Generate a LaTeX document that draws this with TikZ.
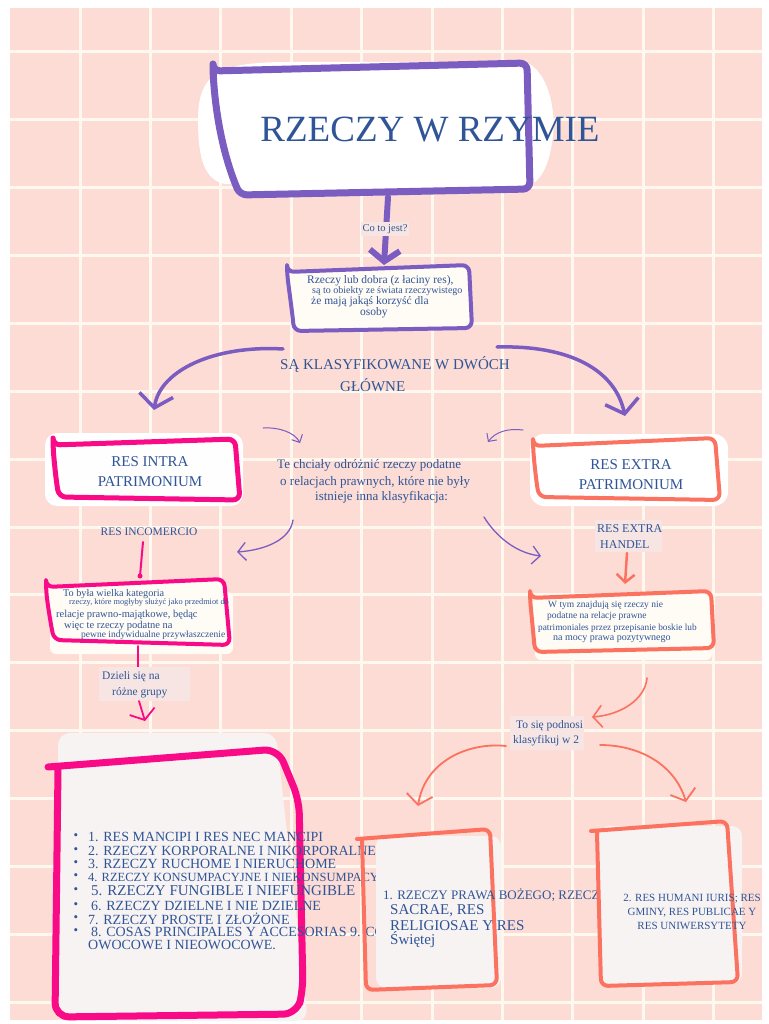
\documentclass[tikz,border=0pt]{standalone}
\usepackage{fontspec}
\setmainfont{Liberation Serif}
\usetikzlibrary{positioning,arrows.meta}

\definecolor{tlo}{HTML}{FCDCD5}
\definecolor{siatka}{HTML}{FFF8EF}
\definecolor{atrament}{HTML}{2F5597}
\definecolor{fiolet}{HTML}{7B5CC0}
\definecolor{fuksja}{HTML}{F90A86}
\definecolor{koral}{HTML}{FB7260}
\definecolor{krem}{HTML}{FFFBF5}
\definecolor{plama}{HTML}{F8F3F3}
\definecolor{etykieta}{HTML}{F6E5E3}

\begin{document}
\begin{tikzpicture}[x=1pt, y=-1pt,
  linia/.style={draw=siatka, line width=3pt},
  tekst/.style={text=atrament, inner sep=0pt},
  rozm/.style 2 args={font=\fontsize{#1}{#2}\selectfont},
  ramka/.style={line width=#1, rounded corners=7pt, line join=round, line cap=round},
  luk/.style={line width=#1, line cap=round},
  etyk/.style={fill=etykieta, inner sep=2pt}
]
\useasboundingbox (0,0) rectangle (768,1024);

% tlo w kratke
\fill[white] (0,0) rectangle (768,1024);
\fill[tlo] (10,8) rectangle (762,1020);
\foreach \i in {0,...,9} \draw[linia] ({80+70.4*\i},8) -- ({80+70.4*\i},1020);
\foreach \j in {0,...,14} \draw[linia] (10,{52+67.86*\j}) -- (762,{52+67.86*\j});

% tytul
\fill[white] (198,120) .. controls (198,72) and (220,62) .. (290,62) -- (525,62)
  .. controls (548,70) and (556,110) .. (553,135) .. controls (550,165) and (540,185) .. (525,186)
  -- (225,184) .. controls (205,180) and (198,160) .. (198,120) -- cycle;
\draw[ramka=7pt, draw=fiolet, fill=white!96!plama] (213,71) -- (527,63) -- (530,189) -- (240,195)
  .. controls (225,160) and (216,120) .. (213,71) -- cycle;
\node[tekst, rozm={37}{40}] (tytul) at (430,130) {RZECZY W RZYMIE};

\coordinate (tytul_d) at (388,197);
\coordinate (def_g) at (384,265);
\draw[fiolet, luk=6pt, -{Straight Barb[length=11pt, width=30pt]}] (tytul_d) -- (def_g);
\node[tekst, etyk, rozm={10.5}{12}] (pytanie) at (385,229) {Co to jest?};

% definicja
\draw[ramka=4pt, draw=fiolet, fill=krem] (287,272) -- (469,265) -- (472,328) -- (294,331)
  .. controls (292,310) and (289,290) .. (287,272) -- cycle;
\node[tekst, rozm={11.5}{13}, anchor=west] (def1) at (307,281) {Rzeczy lub dobra (z łaciny res),};
\node[tekst, rozm={10}{11}, anchor=west] (def2) at (312,291) {są to obiekty ze świata rzeczywistego};
\node[tekst, rozm={11.5}{13}, anchor=west] (def3) at (311,302) {że mają jakąś korzyść dla};
\node[tekst, rozm={11.5}{13}, anchor=west] (def4) at (360,313) {osoby};

% klasyfikacja
\node[tekst, rozm={15}{20}, anchor=west] (klasyf1) at (280,365) {SĄ KLASYFIKOWANE W DWÓCH};
\node[tekst, rozm={15}{20}, anchor=west] (klasyf2) at (340,385) {GŁÓWNE};

\coordinate (kl_l0) at (283,349);
\coordinate (kl_l1) at (154,410);
\coordinate (kl_p0) at (497,347);
\coordinate (kl_p1) at (625,416);
\draw[fiolet, luk=3.5pt, -{Straight Barb[length=13pt, width=34pt]}] (kl_l0) .. controls (215,345) and (160,370) .. (kl_l1);
\draw[fiolet, luk=3.5pt, -{Straight Barb[length=13pt, width=34pt]}] (kl_p0) .. controls (570,345) and (615,370) .. (kl_p1);

% male strzalki
\coordinate (ms_l0) at (263,428);
\coordinate (ms_l1) at (300,443);
\coordinate (ms_p0) at (523,430);
\coordinate (ms_p1) at (488,442);
\draw[fiolet, luk=1pt, -{Straight Barb[length=6pt, width=12pt]}] (ms_l0) .. controls (280,427) and (295,433) .. (ms_l1);
\draw[fiolet, luk=1pt, -{Straight Barb[length=6pt, width=12pt]}] (ms_p0) .. controls (508,428) and (495,432) .. (ms_p1);

% opis
\node[tekst, rozm={13}{15}, anchor=west] (opis1) at (277,465) {Te chciały odróżnić rzeczy podatne};
\node[tekst, rozm={13}{15}, anchor=west] (opis2) at (280,482) {o relacjach prawnych, które nie były};
\node[tekst, rozm={13}{15}, anchor=west] (opis3) at (315,497) {istnieje inna klasyfikacja:};

\coordinate (op_l0) at (293,520);
\coordinate (op_l1) at (237,552);
\coordinate (op_p0) at (484,517);
\coordinate (op_p1) at (541,556);
\draw[fiolet, luk=1.3pt, -{Straight Barb[length=8pt, width=18pt]}] (op_l0) .. controls (290,540) and (265,550) .. (op_l1);
\draw[fiolet, luk=1.3pt, -{Straight Barb[length=8pt, width=18pt]}] (op_p0) .. controls (495,535) and (515,553) .. (op_p1);

% res intra patrimonium
\fill[white, rounded corners=12pt] (45,433) rectangle (243,506);
\draw[ramka=5pt, draw=fuksja, fill=white!94!plama] (53,445) -- (235,439) -- (240,500) -- (59,497)
  .. controls (56,480) and (54,460) .. (53,445) -- cycle;
\node[tekst, rozm={15}{20}, align=center] (intra) at (150,472) {RES INTRA\\PATRIMONIUM};

% res extra patrimonium
\fill[white, rounded corners=14pt] (530,434) rectangle (728,506);
\draw[ramka=4pt, draw=koral, fill=white!96!plama] (533,446) -- (715,438) -- (720,500) -- (539,497)
  .. controls (536,480) and (534,460) .. (533,446) -- cycle;
\node[tekst, rozm={15}{20}, align=center] (extra) at (631,475) {RES EXTRA\\PATRIMONIUM};

% lewa galaz
\node[tekst, rozm={11.5}{13}] (incomercio) at (149,532) {RES INCOMERCIO};
\coordinate (inc_d) at (143,542);
\coordinate (kat_g) at (140,576);
\draw[fuksja, luk=2pt] (inc_d) -- (kat_g);
\fill[fuksja] (kat_g) circle (2.5pt);

\fill[krem, rounded corners=6pt] (50,592) rectangle (233,654);
\draw[ramka=4pt, draw=fuksja, fill=krem] (46,587) -- (224,579) -- (230,645) -- (54,640)
  .. controls (50,620) and (47,600) .. (46,587) -- cycle;
\node[tekst, rozm={10.2}{12}, anchor=west] (kat1) at (63,594) {To była wielka kategoria};
\node[tekst, rozm={8.3}{10}, anchor=west] (kat2) at (69,603) {rzeczy, które mogłyby służyć jako przedmiot do};
\node[tekst, rozm={10.5}{12}, anchor=west] (kat3) at (56,615) {relacje prawno-majątkowe, będąc};
\node[tekst, rozm={10.5}{12}, anchor=west] (kat4) at (64,626) {więc te rzeczy podatne na};
\node[tekst, rozm={9.5}{11}, anchor=west] (kat5) at (81,635) {pewne indywidualne przywłaszczenie};

\coordinate (kat_d) at (138,646);
\coordinate (dz_g) at (138,668);
\draw[fuksja, luk=2pt] (kat_d) -- (dz_g);
\fill[etykieta] (99,667) rectangle (190,701);
\node[tekst, rozm={11.5}{13}, anchor=west] (dzieli1) at (102,677) {Dzieli się na};
\node[tekst, rozm={11.5}{13}, anchor=west] (dzieli2) at (112,693) {różne grupy};
\coordinate (dz_d) at (139,701);
\coordinate (lista_g) at (145,721);
\draw[fuksja, luk=1.8pt, -{Straight Barb[length=9pt, width=26pt]}] (dz_d) -- (lista_g);

% lista
\fill[plama, rounded corners=12pt] (58,733) -- (276,733) -- (308,1021) -- (58,1021) -- cycle;
\draw[ramka=7pt, draw=fuksja, rounded corners=14pt] (48,767) -- (278,749) -- (299,800) -- (303,990)
  -- (297,1014) -- (55,1017) -- (58,769);
\foreach \nr/\y/\r/\x/\t in {
  1/837/14/88/{1. RES MANCIPI I RES NEC MANCIPI},
  2/851/14/88/{2. RZECZY KORPORALNE I NIKORPORALNE},
  3/864/14/88/{3. RZECZY RUCHOME I NIERUCHOME},
  4/877/12.5/88/{4. RZECZY KONSUMPACYJNE I NIEKONSUMPACYJNE},
  5/891/15/91/{5. RZECZY FUNGIBLE I NIEFUNGIBLE},
  6/906/14/91/{6. RZECZY DZIELNE I NIE DZIELNE},
  7/919/14/88/{7. RZECZY PROSTE I ZŁOŻONE},
  8/932/14/91/{8. COSAS PRINCIPALES Y ACCESORIAS 9. COSAS}} {
  \node[tekst, rozm={13}{13}] (kropka\nr) at (76,\y) {•};
  \node[tekst, rozm={\r}{\r}, anchor=west] (pkt\nr) at (\x,\y) {\t};
}
\node[tekst, rozm={14}{14}, anchor=west] (pkt9) at (88,945) {OWOCOWE I NIEOWOCOWE.};

% prawa galaz
\fill[etykieta] (595,520) rectangle (662,552);
\node[tekst, rozm={12}{14}, anchor=west] (handel1) at (597,529) {RES EXTRA};
\node[tekst, rozm={12}{14}, anchor=west] (handel2) at (600,545) {HANDEL};
\coordinate (han_d) at (627,553);
\coordinate (wt_g) at (625,584);
\draw[koral, luk=2.5pt, -{Straight Barb[length=8pt, width=18pt]}] (han_d) -- (wt_g);

\fill[krem, rounded corners=6pt] (535,600) rectangle (712,660);
\draw[ramka=4pt, draw=koral, fill=krem] (530,598) -- (711,591) -- (714,648) -- (535,652)
  .. controls (533,630) and (531,610) .. (530,598) -- cycle;
\node[tekst, rozm={9.5}{11}, anchor=west] (wt1) at (548,605) {W tym znajdują się rzeczy nie};
\node[tekst, rozm={9.5}{11}, anchor=west] (wt2) at (547,616) {podatne na relacje prawne};
\node[tekst, rozm={9.3}{11}, anchor=west] (wt3) at (538,628) {patrimoniales przez przepisanie boskie lub};
\node[tekst, rozm={10}{11}, anchor=west] (wt4) at (553,639) {na mocy prawa pozytywnego};

\coordinate (wt_d) at (647,678);
\coordinate (pod_p) at (592,717);
\draw[koral, luk=1.6pt, -{Straight Barb[length=9pt, width=22pt]}] (wt_d) .. controls (645,700) and (620,715) .. (pod_p);
\fill[etykieta] (510,716) rectangle (584,750);
\node[tekst, rozm={11.5}{13}, anchor=west] (podnosi1) at (516,726) {To się podnosi};
\node[tekst, rozm={11.5}{13}, anchor=west] (podnosi2) at (513,741) {klasyfikuj w 2};

\coordinate (pod_l) at (506,746);
\coordinate (boze_g) at (418,806);
\coordinate (pod_r) at (600,745);
\coordinate (hum_g) at (686,802);
\draw[koral, luk=1.8pt, -{Straight Barb[length=10pt, width=26pt]}] (pod_l) .. controls (470,742) and (425,760) .. (boze_g);
\draw[koral, luk=1.8pt, -{Straight Barb[length=10pt, width=26pt]}] (pod_r) .. controls (640,745) and (675,765) .. (hum_g);

% prawo boze
\fill[plama, rounded corners=10pt] (376,836) rectangle (501,988);
\draw[ramka=4pt, draw=koral] (357,839) -- (490,829) -- (497,985) -- (366,990) -- (362,840);
\node[tekst, rozm={13}{15}, anchor=west] (boze1) at (383,895) {1. RZECZY PRAWA BOŻEGO; RZECZY};
\node[tekst, rozm={15}{15}, anchor=west] (boze2) at (390,911) {SACRAE, RES};
\node[tekst, rozm={15}{15}, anchor=west] (boze3) at (390,926) {RELIGIOSAE Y RES};
\node[tekst, rozm={15}{15}, anchor=west] (boze4) at (390,940) {Świętej};

% prawo ludzkie
\fill[plama, rounded corners=10pt] (599,826) rectangle (742,984);
\draw[ramka=4pt, draw=koral] (591,831) -- (727,821) -- (738,982) -- (601,986) -- (597,833);
\node[tekst, rozm={11}{14}, align=center] (humani) at (692,912) {2. RES HUMANI IURIS; RES\\GMINY, RES PUBLICAE Y\\RES UNIWERSYTETY};
\end{tikzpicture}
\end{document}
